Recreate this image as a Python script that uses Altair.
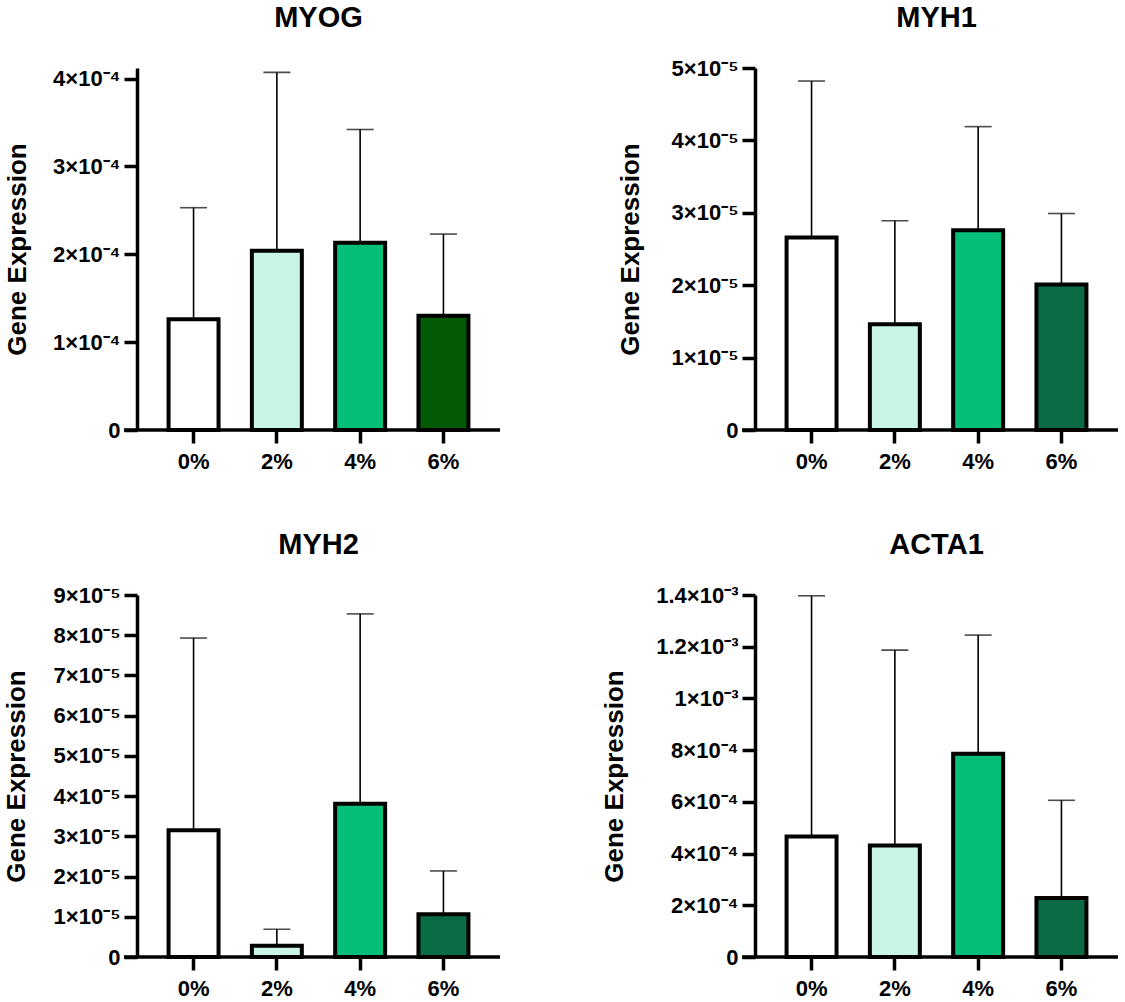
import altair as alt
import pandas as pd

FONT = "Liberation Sans"

groups = ["0%", "2%", "4%", "6%"]

# Mean expression and SD per group
myog_mean = [1.26e-4, 2.04e-4, 2.13e-4, 1.30e-4]
myog_sd = [1.27e-4, 2.03e-4, 1.29e-4, 0.93e-4]
myh1_mean = [2.66e-5, 1.46e-5, 2.76e-5, 2.01e-5]
myh1_sd = [2.16e-5, 1.43e-5, 1.43e-5, 0.98e-5]
myh2_mean = [3.15e-5, 0.28e-5, 3.81e-5, 1.06e-5]
myh2_sd = [4.78e-5, 0.41e-5, 4.72e-5, 1.08e-5]
acta1_mean = [4.66e-4, 4.31e-4, 7.86e-4, 2.28e-4]
acta1_sd = [9.31e-4, 7.56e-4, 4.59e-4, 3.78e-4]

# Bar fills
fills_myog = ["#ffffff", "#c8f5e4", "#05bf78", "#025a05"]
fills_other = ["#ffffff", "#c8f5e4", "#05bf78", "#0a6b45"]

# Axis ticks and their labels
myog_ticks = [0, 1e-4, 2e-4, 3e-4, 4e-4]
myog_labels = ["0", "1×10⁻⁴", "2×10⁻⁴", "3×10⁻⁴", "4×10⁻⁴"]
myh1_ticks = [0, 1e-5, 2e-5, 3e-5, 4e-5, 5e-5]
myh1_labels = ["0", "1×10⁻⁵", "2×10⁻⁵", "3×10⁻⁵", "4×10⁻⁵", "5×10⁻⁵"]
myh2_ticks = [0, 1e-5, 2e-5, 3e-5, 4e-5, 5e-5, 6e-5, 7e-5, 8e-5, 9e-5]
myh2_labels = ["0", "1×10⁻⁵", "2×10⁻⁵", "3×10⁻⁵", "4×10⁻⁵", "5×10⁻⁵",
               "6×10⁻⁵", "7×10⁻⁵", "8×10⁻⁵", "9×10⁻⁵"]
acta1_ticks = [0, 2e-4, 4e-4, 6e-4, 8e-4, 1e-3, 1.2e-3, 1.4e-3]
acta1_labels = ["0", "2×10⁻⁴", "4×10⁻⁴", "6×10⁻⁴", "8×10⁻⁴", "1×10⁻³",
                "1.2×10⁻³", "1.4×10⁻³"]

W, H = 363, 362


def label_expr(values, labels):
    expr = "''"
    for v, lab in reversed(list(zip(values, labels))):
        expr = f"abs(datum.value - {v!r}) < 1e-9 ? '{lab}' : ({expr})"
    return expr


def panel(gene, means, sds, fills, ticks, labels, ymax, title_x):
    df = pd.DataFrame({
        "group": groups,
        "mean": means,
        "upper": [m + s for m, s in zip(means, sds)],
        "fill": fills,
    })
    xenc = alt.X(
        "group:N", sort=groups,
        scale=alt.Scale(paddingInner=0.4, paddingOuter=0.379),
        axis=alt.Axis(title=None, labelAngle=0, domain=False, tickSize=13,
                      tickWidth=3.5, tickColor="black", labelPadding=8,
                      labelFontSize=22, labelFont=FONT, labelFontWeight="bold",
                      labelColor="black"),
    )
    yaxis = alt.Axis(
        title="Gene Expression", values=ticks, labelExpr=label_expr(ticks, labels),
        grid=False, domainWidth=3.5, domainColor="black", tickSize=13,
        tickWidth=3.5, tickColor="black", labelPadding=4, labelFontSize=22,
        labelFont=FONT, labelFontWeight="bold", labelColor="black",
        titleFont=FONT, titleFontSize=26, titleFontWeight="bold",
        titleColor="black", titleX=title_x,
    )
    yscale = alt.Scale(domain=[0, ymax], nice=False, zero=True)
    base = alt.Chart(df)
    stem = base.mark_rule(color="black", strokeWidth=1.6).encode(
        x=xenc, y=alt.Y("mean:Q", scale=yscale, axis=yaxis), y2="upper:Q")
    cap = base.mark_tick(color="black", thickness=1.6, size=27).encode(
        x=xenc, y=alt.Y("upper:Q", scale=yscale, axis=yaxis))
    bars = base.mark_bar(stroke="black", strokeWidth=4, strokeJoin="miter").encode(
        x=xenc, y=alt.Y("mean:Q", scale=yscale, axis=yaxis),
        fill=alt.Fill("fill:N", scale=None, legend=None))
    one = alt.Chart(pd.DataFrame({"k": [0]}))
    baseline = one.mark_rule(color="black", strokeWidth=3.5).encode(
        x=alt.value(-13), x2=alt.value(W), y=alt.value(H))
    title = one.mark_text(font=FONT, fontSize=29, fontWeight="bold",
                          align="center", baseline="alphabetic",
                          color="black").encode(
        x=alt.value(W / 2), y=alt.value(-41), text=alt.value(gene))
    return alt.layer(stem, cap, bars, baseline, title).properties(width=W, height=H)


p1 = panel("MYOG", myog_mean, myog_sd, fills_myog, myog_ticks, myog_labels, 4.12e-4, -107)
p2 = panel("MYH1", myh1_mean, myh1_sd, fills_other, myh1_ticks, myh1_labels, 5e-5, -112)
p3 = panel("MYH2", myh2_mean, myh2_sd, fills_other, myh2_ticks, myh2_labels, 9e-5, -108)
p4 = panel("ACTA1", acta1_mean, acta1_sd, fills_other, acta1_ticks, acta1_labels, 1.4e-3, -128)

chart = (
    alt.concat(p1, p2, p3, p4, columns=2, bounds="flush",
               spacing={"row": 165, "column": 255})
    .properties(padding={"left": 3, "top": 4, "right": 5, "bottom": 5},
                background="white")
    .configure_view(stroke=None)
)

chart.save("out.html", embed_options={"renderer": "svg", "actions": False})
